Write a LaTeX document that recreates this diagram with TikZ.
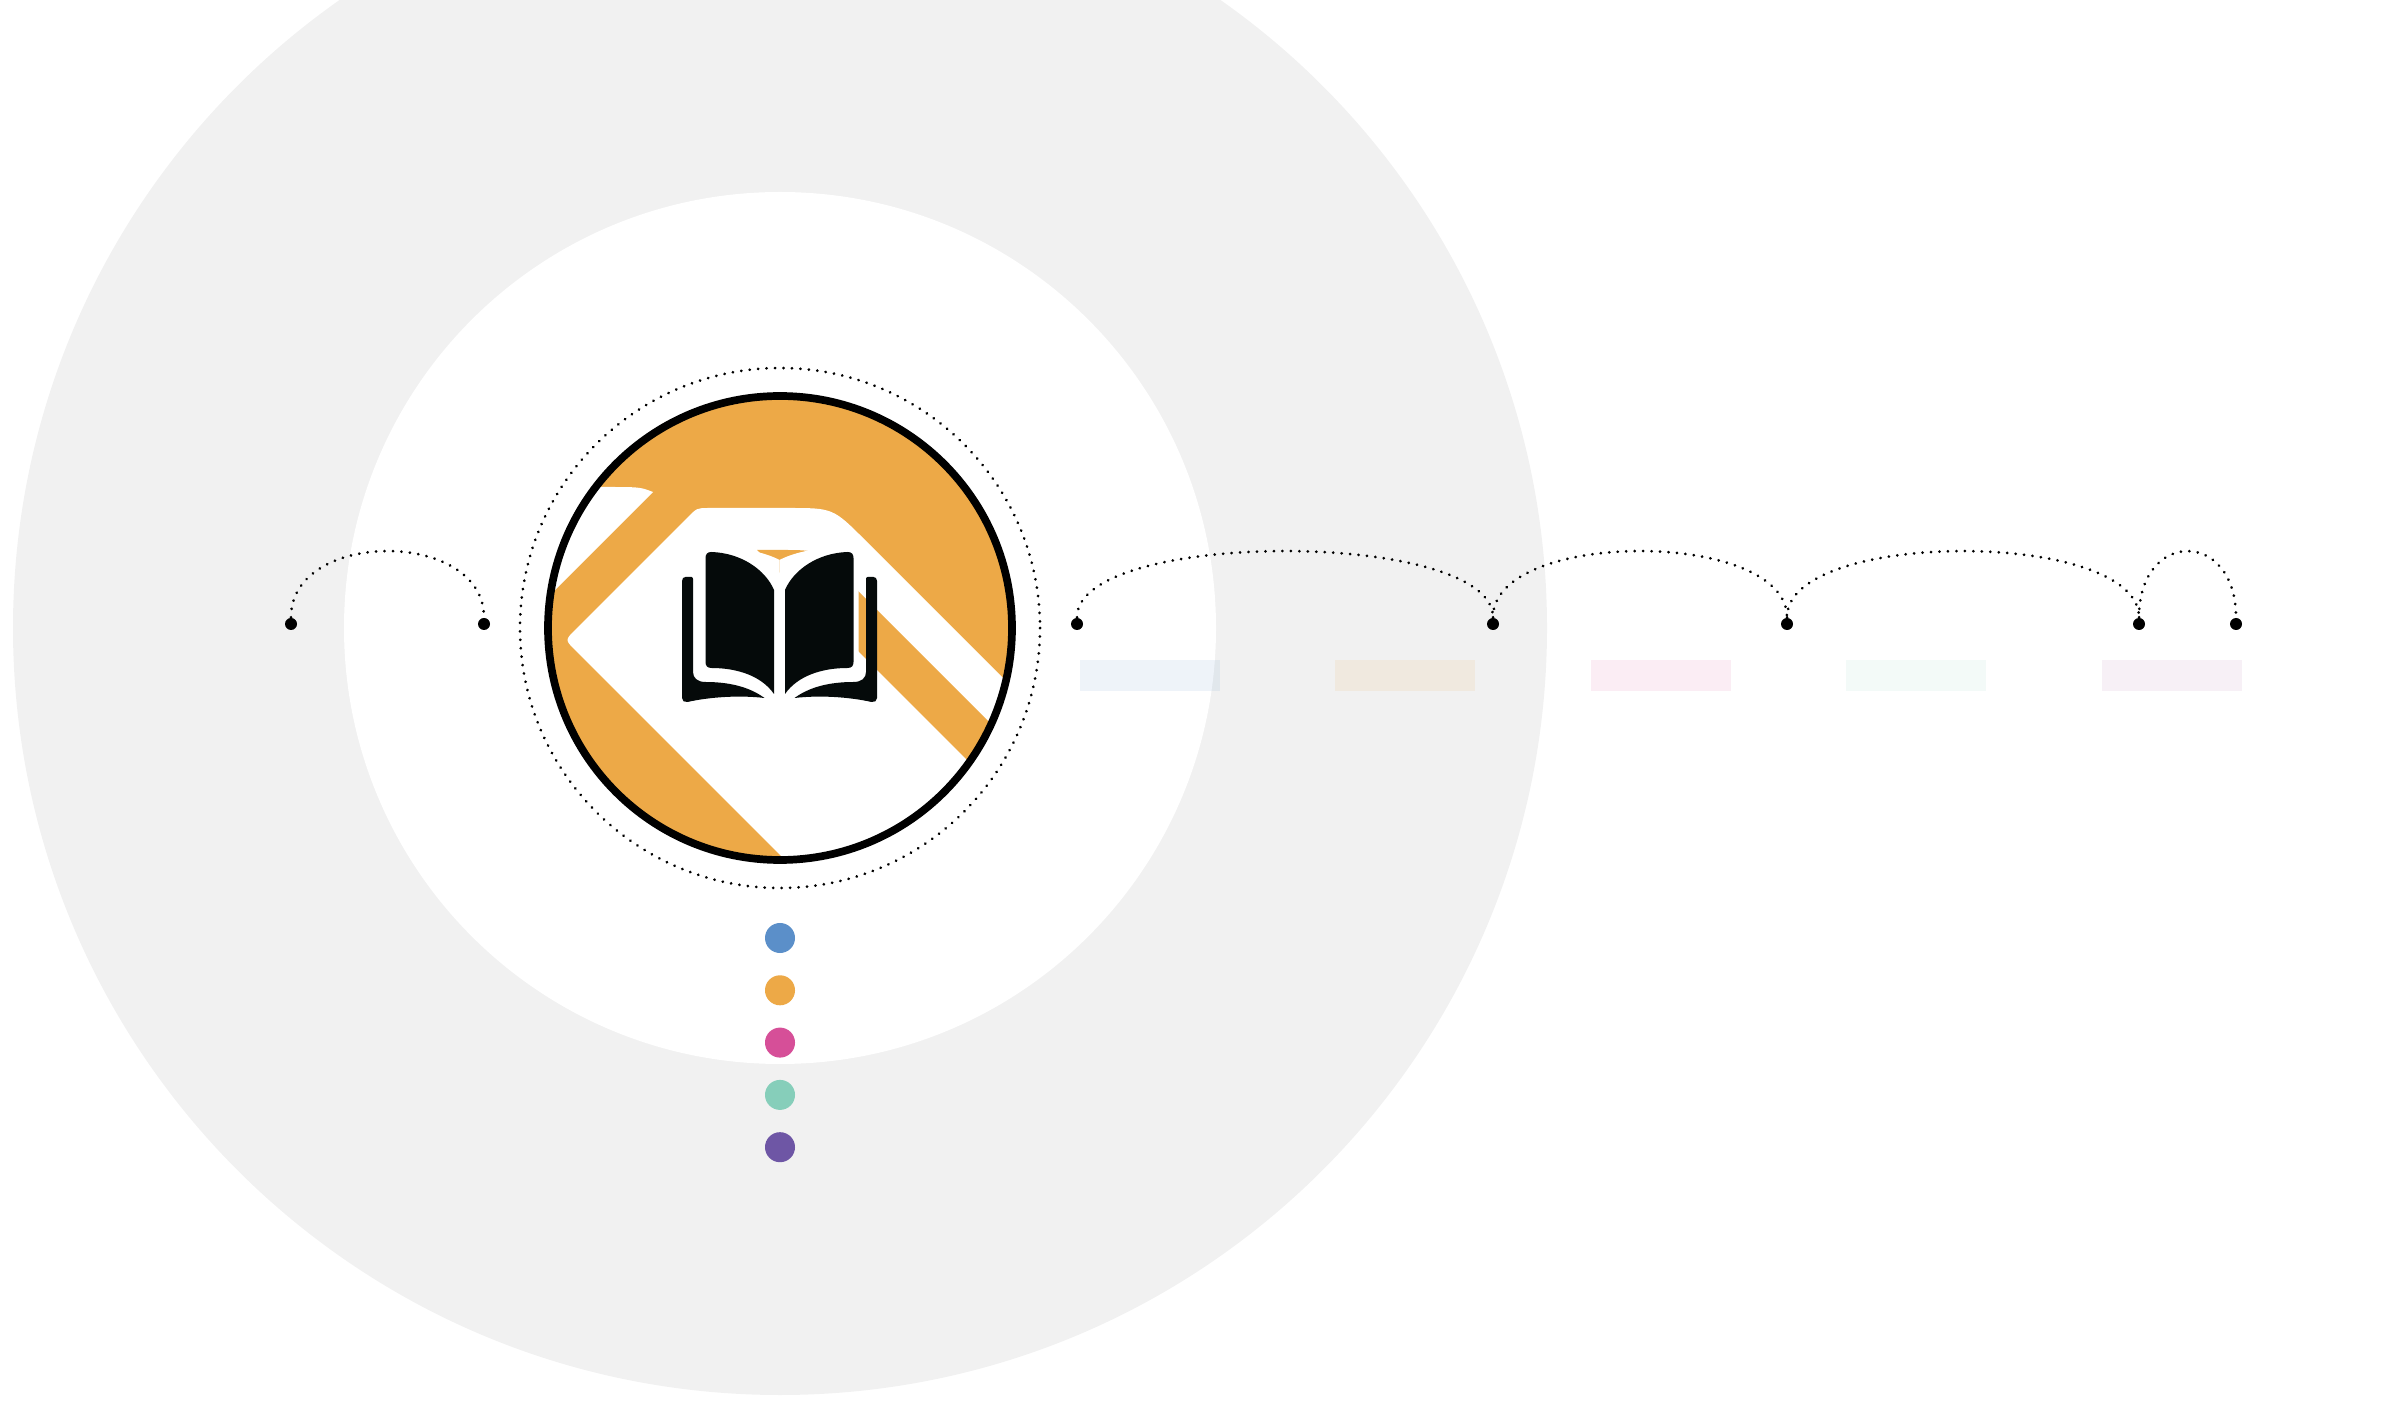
\documentclass[tikz,border=0pt]{standalone}
\usepackage{tikz}
\definecolor{ringgray}{HTML}{F1F1F1}
\definecolor{hub}{HTML}{EDA947}
\definecolor{ink}{HTML}{050A0A}
\definecolor{dblue}{HTML}{5B8FC9}
\definecolor{dorange}{HTML}{EDA947}
\definecolor{dpink}{HTML}{D64F98}
\definecolor{dteal}{HTML}{86CEBA}
\definecolor{dpurple}{HTML}{6E56A5}
\definecolor{dmauve}{HTML}{AF69A5}

\begin{document}
\begin{tikzpicture}[x=0.01cm, y=-0.01cm,
    dotline/.style={line width=0.85pt, dash pattern=on 0.01pt off 2.4pt, line cap=round},
    dot/.style={shape=circle, fill=black, inner sep=0pt, minimum size=0.12cm},
    cdot/.style={shape=circle, inner sep=0pt, minimum size=0.3cm},
    tag/.style={shape=rectangle, inner sep=0pt, minimum width=1.395cm, minimum height=0.307cm, fill opacity=0.1},
    hop/.style={to path={.. controls +(0,-95) and +(0,-95) .. (\tikztotarget) \tikztonodes}}]
    \useasboundingbox (0,0) rectangle (2400,1404);

    % background ring
    \begin{scope}
        \clip (0,0) rectangle (2400,1404);
        \fill[ringgray] (780,628) circle (767);
        \fill[white] (780,628) circle (436);
    \end{scope}
    \draw[dotline] (780,628) circle (260);

    % hub with stripes
    \begin{scope}
        \clip (780,628) circle (232);
        \fill[hub] (780,628) circle (232);
        \fill[white] (480,487) -- (605,487) .. controls (640,487) .. (653,492) -- (480,665) -- cycle;
        \fill[white] (925,1000) -- (575,650) .. controls (565,640) .. (575,630) -- (688,517)
            .. controls (697,508) .. (709,508) -- (788,508) .. controls (833,508) .. (865,540)
            -- (1200,875) -- (1200,1000) -- cycle;
        \fill[hub] (757,550) -- (782,550) .. controls (817,550) .. (842,575) -- (1200,933) -- (1200,993) -- cycle;
    \end{scope}
    \draw[line width=0.077cm] (780,628) circle (232);

    % book
    \foreach \s in {1,-1} {
        \begin{scope}[shift={(779.5,0)}, xscale=\s]
            \fill[white] (0,560) .. controls (15,552) and (40,547) .. (68,547) .. controls (76,547) and (79,550) .. (79,556)
                -- (79,662) .. controls (79,669) and (76,673) .. (68,673) .. controls (40,674) and (15,684) .. (0,702) -- cycle;
            \fill[ink] (5.5,590) .. controls (14,570) and (38,553) .. (68,552) .. controls (72,552) and (74,554) .. (74,558)
                -- (74,662) .. controls (74,666) and (72,668) .. (68,668) .. controls (42,668) and (18,676) .. (5.5,694) -- cycle;
            \fill[ink] (86.5,579) .. controls (86.5,578) and (87,577) .. (88,577) -- (94,577)
                .. controls (96,577) and (97.5,578.5) .. (97.5,581) -- (97.5,698)
                .. controls (97.5,701) and (95,702.5) .. (92,702) .. controls (70,697) and (40,695) .. (15,698)
                .. controls (30,687) and (50,682) .. (74,682) .. controls (82,682) and (86.5,678) .. (86.5,672) -- cycle;
        \end{scope}
    }

    % hops
    \node[dot] (0) at (291,624) {};
    \node[dot] (1) at (484,624) {};
    \node[dot] (2) at (1077,624) {};
    \node[dot] (3) at (1493,624) {};
    \node[dot] (4) at (1787,624) {};
    \node[dot] (5) at (2139,624) {};
    \node[dot] (6) at (2236,624) {};

    \path[dotline] (0) edge[hop] (1);
    \path[dotline] (2) edge[hop] (3);
    \path[dotline] (3) edge[hop] (4);
    \path[dotline] (4) edge[hop] (5);
    \path[dotline] (5) edge[hop] (6);

    % legend dots and tags
    \foreach \c [count=\i] in {dblue,dorange,dpink,dteal,dpurple}
        \node[cdot, fill=\c] (c\i) at (780, {938+52.3*(\i-1)}) {};
    \foreach \c [count=\i] in {dblue,dorange,dpink,dteal,dmauve}
        \node[tag, fill=\c] (t\i) at ({1149.75+255.5*(\i-1)}, 675.3) {};
\end{tikzpicture}
\end{document}
